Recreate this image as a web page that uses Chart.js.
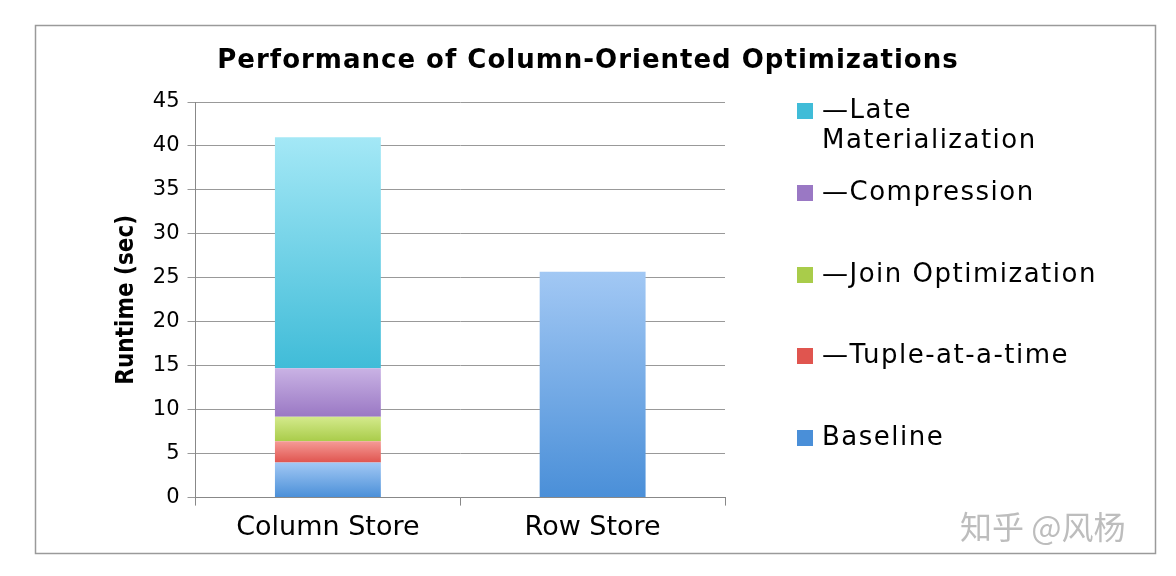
<!DOCTYPE html>
<html>
<head>
<meta charset="utf-8">
<script src="https://cdn.jsdelivr.net/npm/chart.js@4"></script>
<style>
body{margin:0;background:#fff}
#wrap{width:1176px;height:576px}
</style>
</head>
<body>
<div id="wrap"><canvas id="graf" width="1176" height="576"></canvas></div>
<script>
const categorias = ['Column Store', 'Row Store']
const baseline = [4.0, 25.7]
const tuple = [2.4, 0]
const join = [2.8, 0]
const compression = [5.5, 0]
const lateMat = [26.3, 0]
const tickMax = 45

const series = [baseline, tuple, join, compression, lateMat]
const nombres = [['Baseline'], ['\u2014Tuple-at-a-time'], ['\u2014Join Optimization'], ['\u2014Compression'], ['\u2014Late', 'Materialization']]
const colores = [['#4a8fd8', '#a2c8f4'], ['#e0554f', '#f59a96'], ['#a9cc4a', '#d4ea8c'], ['#9a78c4', '#c9b2e4'], ['#40bcd8', '#a4e8f6']]

function degradado(i){
    return ctx => {
        const chart = ctx.chart
        const y = chart.scales && chart.scales.y
        if(!y || ctx.type !== 'data') return colores[i][0]
        let base = 0
        for(let k = 0; k < i; k++) base += series[k][ctx.dataIndex]
        const top = base + series[i][ctx.dataIndex]
        const y0 = y.getPixelForValue(base), y1 = y.getPixelForValue(top)
        if(!isFinite(y0) || !isFinite(y1) || y0 === y1) return colores[i][0]
        const g = chart.ctx.createLinearGradient(0, y0, 0, y1)
        g.addColorStop(0, colores[i][0])
        g.addColorStop(1, colores[i][1])
        return g
    }
}

const extras = {
    id: 'extras',
    beforeDraw(chart){
        const c = chart.ctx
        c.save()
        c.strokeStyle = '#9a9a9a'
        c.lineWidth = 1.5
        c.strokeRect(35.5, 25.5, 1120, 528)
        c.restore()
    },
    afterDraw(chart){
        const c = chart.ctx
        c.save()
        c.fillStyle = '#000'
        c.font = 'bold 26px "DejaVu Sans"'
        c.letterSpacing = '1px'
        c.textAlign = 'center'
        c.textBaseline = 'middle'
        c.fillText('Performance of Column-Oriented Optimizations', 588, 61)
        c.textAlign = 'left'
        const ys = [438, 356, 275, 193, 111]
        c.font = '26px "DejaVu Sans"'
        c.letterSpacing = '1.5px'
        for(let i = 0; i < 5; i++){
            c.fillStyle = colores[i][0]
            c.fillRect(797, ys[i] - 8, 16, 16)
            c.fillStyle = '#000'
            nombres[i].forEach((t, k) => c.fillText(t, 822, ys[i] + k * 30))
        }
        c.letterSpacing = '0px'
        c.fillStyle = '#bdbdbd'
        c.font = '32px "Noto Sans CJK SC"'
        c.fillText('知乎 @风杨', 960, 527)
        c.restore()
    }
}

new Chart(document.getElementById('graf'), {
    type: 'bar',
    plugins: [extras],
    data: {
        labels: categorias,
        datasets: series.map((d, i) => ({
            label: nombres[i].join(' '),
            data: d,
            backgroundColor: degradado(i),
            barPercentage: 0.8,
            categoryPercentage: 0.5,
        }))
    },
    options: {
        responsive: false,
        animation: false,
        layout: { padding: { left: 108, right: 451, top: 102, bottom: 26 } },
        plugins: {
            legend: { display: false },
            tooltip: { enabled: false },
        },
        scales: {
            x: {
                stacked: true,
                grid: { display: true, drawOnChartArea: false, offset: true, color: '#888', tickLength: 8 },
                border: { color: '#888' },
                ticks: { color: '#000', font: { family: '"DejaVu Sans"', size: 27 }, padding: 6 }
            },
            y: {
                stacked: true,
                min: 0,
                max: tickMax,
                grid: { color: '#999', tickLength: 8 },
                border: { color: '#888' },
                ticks: { stepSize: 5, color: '#000', font: { family: '"DejaVu Sans"', size: 21 }, padding: 8 },
                title: {
                    display: true,
                    text: 'Runtime (sec)',
                    color: '#000',
                    font: { family: '"DejaVu Sans Condensed"', size: 24, weight: 'bold' },
                    padding: 4
                }
            }
        }
    }
})
</script>
</body>
</html>
